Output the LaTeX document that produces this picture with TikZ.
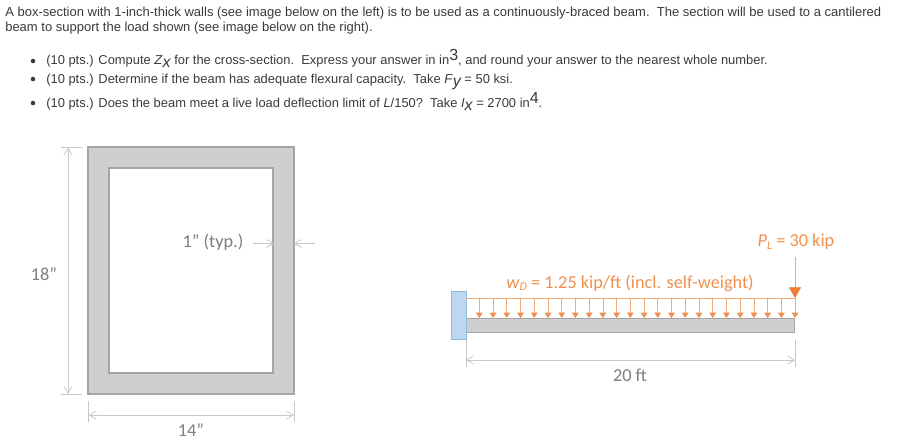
\documentclass[tikz,border=0pt]{standalone}
\usepackage{fontspec}
\setmainfont{Liberation Sans}
\newfontfamily\diag{Carlito}
\usetikzlibrary{arrows.meta}
\definecolor{txt}{HTML}{3A3A3A}
\definecolor{dimc}{HTML}{C8C8C8}
\definecolor{lab}{HTML}{7F7F7F}
\definecolor{org}{HTML}{ED7D31}
\definecolor{orgl}{HTML}{F2A878}
\definecolor{secfill}{HTML}{D0CECE}
\definecolor{secline}{HTML}{A5A5A5}
\definecolor{wallfill}{HTML}{BDD7EE}
\definecolor{wallline}{HTML}{8FBBE3}
\newcommand{\bigsub}[1]{\raisebox{-2.5pt}{\fontsize{12}{12}\selectfont\itshape #1}}
\newcommand{\bigsup}[1]{\raisebox{3pt}{\fontsize{12}{12}\selectfont #1}}
\newcommand{\lblsub}[1]{\raisebox{-2pt}{\fontsize{9}{9}\selectfont\itshape #1}}
\tikzset{
  para/.style={anchor=base west,inner sep=0pt,text=txt,font=\fontsize{9.76}{12}\selectfont},
  itempara/.style={anchor=base west,inner sep=0pt,text=txt,font=\fontsize{9.69}{12}\selectfont},
  bulletdot/.style={circle,fill=txt,inner sep=0pt,minimum size=3.4pt},
  dimlab/.style={text=lab,inner sep=0pt,font=\diag\fontsize{13.7}{16}\selectfont},
  loadlab/.style={text=org!85!white,inner sep=0pt,font=\diag\fontsize{13.7}{16}\selectfont},
  dimline/.style={draw=dimc,line width=0.6pt},
  dimarrow/.style={dimline,{Straight Barb[length=5pt,width=6pt]}-{Straight Barb[length=5pt,width=6pt]}},
  onearrow/.style={dimline,-{Straight Barb[length=5pt,width=6pt]}},
  section/.style={draw=secline,line width=0.8pt},
  smallload/.style={draw=orgl,line width=0.5pt,-{Triangle[length=4pt,width=5pt,color=org!85!white]}},
  bigload/.style={draw=orgl,line width=0.6pt,-{Triangle[length=8pt,width=9pt,color=org]}},
}
\begin{document}
\begin{tikzpicture}[x=0.75pt,y=-0.75pt]
\useasboundingbox (0,0) rectangle (897,444);
\fill[white] (0,0) rectangle (897,444);
% text
\node[para] (t1) at (5,16) {A box-section with 1-inch-thick walls (see image below on the left) is to be used as a continuously-braced beam.\ \ The section will be used to a cantilered};
\node[para] (t2) at (5,31) {beam to support the load shown (see image below on the right).};
\node[bulletdot] (b1) at (33,61) {};
\node[bulletdot] (b2) at (33,79) {};
\node[bulletdot] (b3) at (33,103) {};
\node[itempara] (t3) at (46,64) {(10 pts.) Compute \textit{Z}\bigsub{x} for the cross-section.\ \ Express your answer in in\bigsup{3}, and round your answer to the nearest whole number.};
\node[itempara] (t4) at (46,83) {(10 pts.) Determine if the beam has adequate flexural capacity.\ \ Take \textit{F}\bigsub{y} = 50 ksi.};
\node[itempara] (t5) at (46,107) {(10 pts.) Does the beam meet a live load deflection limit of \textit{L}/150?\ \ Take \textit{I}\bigsub{x} = 2700 in\bigsup{4}.};
% section
\path[section,fill=secfill,even odd rule] (88,147) rectangle (294,394) (109,168) rectangle (273,373);
\coordinate (h1) at (61,147.5); \coordinate (h2) at (82,147.5);
\coordinate (h3) at (61,394); \coordinate (h4) at (82,394);
\coordinate (ht) at (68,147.5); \coordinate (hb) at (68,394);
\draw[dimline] (h1) -- (h2); \draw[dimline] (h3) -- (h4);
\draw[dimarrow] (ht) -- (hb);
\node[dimlab] (n18) at (44,274) {18\char"201D};
\coordinate (w1) at (88.5,401); \coordinate (w2) at (88.5,422);
\coordinate (w3) at (294,401); \coordinate (w4) at (294,422);
\coordinate (wl) at (88.5,415); \coordinate (wr) at (294,415);
\draw[dimline] (w1) -- (w2); \draw[dimline] (w3) -- (w4);
\draw[dimarrow] (wl) -- (wr);
\node[dimlab] (n14) at (191,430) {14\char"201D};
\node[dimlab] (ntyp) at (213,242) {1\char"201D{} (typ.)};
\coordinate (a1) at (253,243.5); \coordinate (a2) at (274,243.5);
\coordinate (a3) at (315,243.5); \coordinate (a4) at (294,243.5);
\draw[onearrow] (a1) -- (a2);
\draw[onearrow] (a3) -- (a4);
% beam
\node[draw=secline,fill=secfill,line width=0.8pt,minimum width=246pt,minimum height=10.5pt,inner sep=0pt,anchor=north west] (beam) at (466,318) {};
\node[draw=wallline,fill=wallfill,line width=0.8pt,minimum width=11pt,minimum height=36pt,inner sep=0pt,anchor=north west] (wall) at (451,291) {};
\coordinate (ls) at (466,298); \coordinate (le) at (795,298);
\draw[draw=orgl,line width=0.5pt] (ls) -- (le);
\foreach \i in {0,...,23}{
  \coordinate (la\i) at ({479.3+13.73*\i},298);
  \coordinate (lb\i) at ({479.3+13.73*\i},318);
  \draw[smallload] (la\i) -- (lb\i);
}
\coordinate (ps) at (795,257); \coordinate (pe) at (795,298);
\draw[bigload] (ps) -- (pe);
\node[loadlab] (npl) at (796,242) {\textit{P}\lblsub{L} = 30 kip};
\node[loadlab] (nwd) at (630,283) {\textit{w}\lblsub{D} = 1.25 kip/ft (incl. self-weight)};
\coordinate (d1) at (466,340); \coordinate (d2) at (466,367);
\coordinate (d3) at (795,340); \coordinate (d4) at (795,367);
\coordinate (dl) at (466,360); \coordinate (dr) at (795,360);
\draw[dimline] (d1) -- (d2); \draw[dimline] (d3) -- (d4);
\draw[dimarrow] (dl) -- (dr);
\node[dimlab] (n20) at (630,375) {20 ft};
\end{tikzpicture}
\end{document}
